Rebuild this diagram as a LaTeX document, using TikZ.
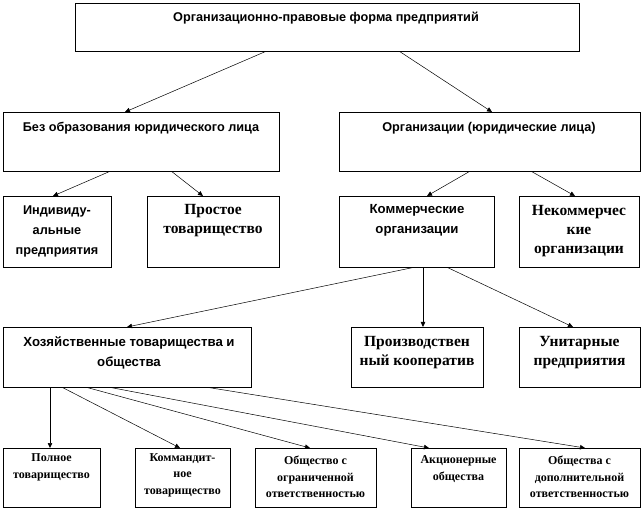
\documentclass[tikz,border=0pt]{standalone}
\usepackage{fontspec}
\setmainfont{Liberation Serif}
\newfontfamily\sansf{Liberation Sans}
\usetikzlibrary{arrows.meta}
\tikzset{
  box/.style={draw=black, line width=0.75pt, inner sep=0pt, anchor=north west},
  sanst/.style={font={\sansf\bfseries\fontsize{12.7pt}{20pt}\selectfont}, align=center, inner sep=0pt},
  sansm/.style={font={\sansf\bfseries\fontsize{13.2pt}{20pt}\selectfont}, align=center, inner sep=0pt},
  serift/.style={font={\bfseries\fontsize{15.5pt}{19pt}\selectfont}, align=center, inner sep=0pt},
  smallt/.style={font={\bfseries\fontsize{12pt}{16.5pt}\selectfont}, align=center, inner sep=0pt},
  arr/.style={draw=black, line width=0.5pt, -{Triangle[length=5pt,width=4.5pt]}}
}
\begin{document}
\begin{tikzpicture}[x=1pt,y=-1pt]
\useasboundingbox (0,0) rectangle (642,510);
% boxes
\node[box, minimum width=504pt, minimum height=48pt] (top) at (75,3) {};
\node[box, minimum width=276pt, minimum height=59pt] (bez) at (3,112) {};
\node[box, minimum width=301pt, minimum height=59pt] (org) at (339,112) {};
\node[box, minimum width=108pt, minimum height=71pt] (ind) at (3,196) {};
\node[box, minimum width=132pt, minimum height=71pt] (prost) at (147,196) {};
\node[box, minimum width=155pt, minimum height=71pt] (komm) at (339,196) {};
\node[box, minimum width=120pt, minimum height=71pt] (nekomm) at (519,196) {};
\node[box, minimum width=248pt, minimum height=60pt] (hoz) at (3,327) {};
\node[box, minimum width=132pt, minimum height=60pt] (proizv) at (351,327) {};
\node[box, minimum width=121pt, minimum height=60pt] (unit) at (519,327) {};
\node[box, minimum width=97pt, minimum height=59pt] (poln) at (3,448) {};
\node[box, minimum width=95pt, minimum height=59pt] (kommand) at (135,448) {};
\node[box, minimum width=121pt, minimum height=59pt] (oo) at (255,448) {};
\node[box, minimum width=95pt, minimum height=59pt] (ao) at (411,448) {};
\node[box, minimum width=121pt, minimum height=59pt] (odo) at (519,448) {};
% texts
\node[sanst] (topt) at (326,18) {Организационно-правовые форма предприятий};
\node[sanst] (bezt) at (141,128) {Без образования юридического лица};
\node[sanst] (orgt) at (489,128) {Организации (юридические лица)};
\node[sanst] (indt) at (57,231) {Индивиду-\\альные\\предприятия};
\node[serift] (prostt) at (213,221) {Простое\\товарищество};
\node[sansm] (kommt) at (417,220) {Коммерческие\\организации};
\node[serift] (nekommt) at (579,231) {Некоммерчес\\кие\\организации};
\node[sansm] (hozt) at (129,353) {Хозяйственные товарищества и\\общества};
\node[serift] (proizvt) at (417,353) {Производствен\\ный кооператив};
\node[serift] (unitt) at (579.5,353) {Унитарные\\предприятия};
\node[smallt] (polnt) at (51.5,467.5) {Полное\\товарищество};
\node[smallt] (kommandt) at (182.5,475) {Коммандит-\\ное\\товарищество};
\node[smallt] (oot) at (315.5,477) {Общество с\\ограниченной\\ответственностью};
\node[smallt] (aot) at (458.5,469) {Акционерные\\общества};
\node[smallt] (odot) at (579.5,477) {Общества с\\дополнительной\\ответственностью};
% connectors
\draw[arr] ([xshift=190pt]top.south west) -- ([xshift=122pt]bez.north west);
\draw[arr] ([xshift=325pt]top.south west) -- ([xshift=153pt]org.north west);
\draw[arr] ([xshift=106pt]bez.south west) -- ([xshift=50pt]ind.north west);
\draw[arr] ([xshift=169pt]bez.south west) -- ([xshift=56pt]prost.north west);
\draw[arr] ([xshift=130pt]org.south west) -- ([xshift=88pt]komm.north west);
\draw[arr] ([xshift=193pt]org.south west) -- ([xshift=56pt]nekomm.north west);
\draw[arr] ([xshift=73pt]komm.south west) -- ([xshift=124pt]hoz.north west);
\draw[arr] ([xshift=84pt]komm.south west) -- ([xshift=72pt]proizv.north west);
\draw[arr] ([xshift=109pt]komm.south west) -- ([xshift=54pt]unit.north west);
\draw[arr] ([xshift=47pt]hoz.south west) -- ([xshift=47pt]poln.north west);
\draw[arr] ([xshift=60pt]hoz.south west) -- ([xshift=45pt]kommand.north west);
\draw[arr] ([xshift=85pt]hoz.south west) -- ([xshift=55pt]oo.north west);
\draw[arr] ([xshift=109pt]hoz.south west) -- ([xshift=18pt]ao.north west);
\draw[arr] ([xshift=207pt]hoz.south west) -- ([xshift=66pt]odo.north west);
\end{tikzpicture}
\end{document}
